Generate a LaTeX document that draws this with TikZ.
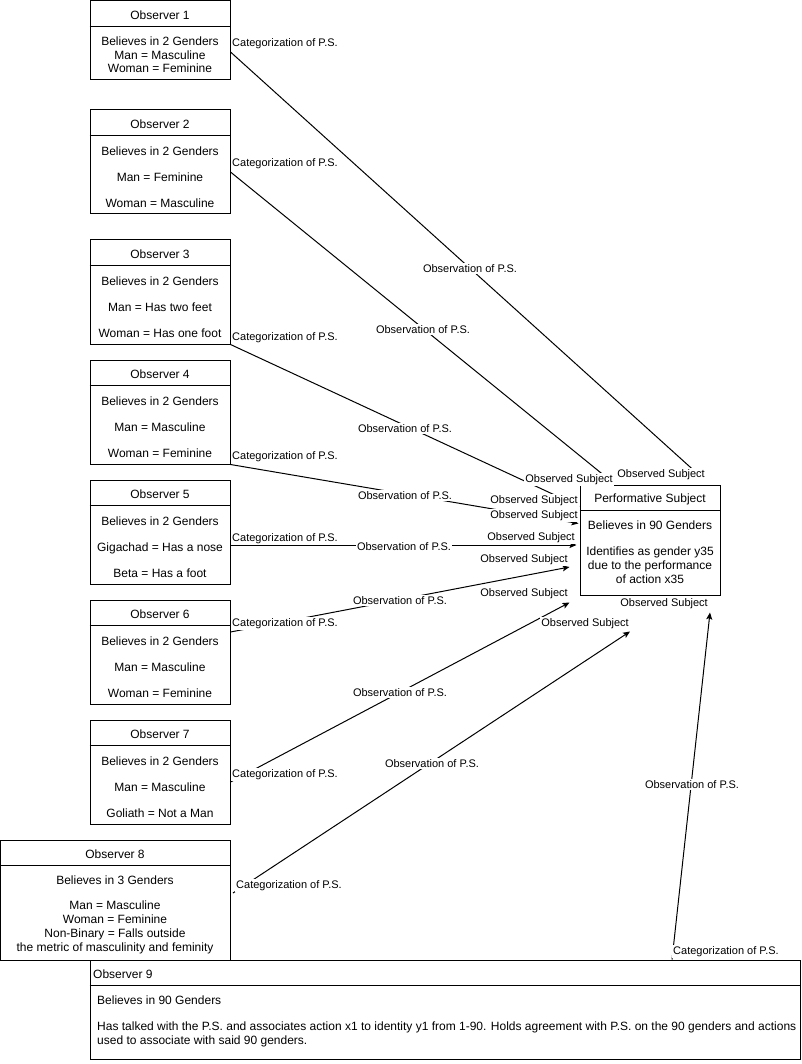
\documentclass[tikz,border=0pt]{standalone}
\usepackage{fontspec}
\setmainfont{Liberation Sans}
\usetikzlibrary{arrows.meta}
\begin{document}
\begin{tikzpicture}[x=1pt,y=-1pt,
  box/.style={draw, line width=1pt, inner sep=0pt, minimum width=140pt},
  ttl/.style={font=\fontsize{12}{14}\selectfont, inner sep=0pt, yshift=-1.5pt},
  bdy/.style={font=\fontsize{12}{13.5}\selectfont, align=center, inner sep=0pt, yshift=-1.5pt},
  bdyw/.style={font=\fontsize{12}{14}\selectfont, align=center, inner sep=0pt, yshift=-1.5pt},
  lbl/.style={font=\fontsize{11}{13}\selectfont, fill=white, inner sep=1pt, yshift=-1.5pt},
  conn/.style={line width=1pt, -{Stealth[length=7pt,width=6pt,inset=1.5pt]}},
  hdr/.style={line width=1pt}]
\useasboundingbox (0,0) rectangle (801,1064);

% ---------- boxes ----------
\node[box, minimum height=79pt] (o1) at (160,40.5) {};
\node[box, minimum height=104pt] (o2) at (160,162) {};
\node[box, minimum height=104pt] (o3) at (160,292) {};
\node[box, minimum height=104pt] (o4) at (160,412) {};
\node[box, minimum height=104pt] (o5) at (160,532) {};
\node[box, minimum height=104pt] (o6) at (160,652) {};
\node[box, minimum height=104pt] (o7) at (160,772) {};
\node[box, minimum width=230pt, minimum height=120pt] (o8) at (115.5,900) {};
\node[box, minimum width=710pt, minimum height=99pt] (o9) at (445,1009.5) {};
\node[box, minimum height=110pt] (ps) at (650,540) {};

\foreach \n in {o1,o2,o3,o4,o5,o6,o7,o8,o9,ps}
  \draw[hdr] ([yshift=-26pt]\n.north west) -- ([yshift=-26pt]\n.north east);

% ---------- box texts ----------
\node[ttl] (o1t) at (160,13.5) {Observer 1};
\node[bdy] (o1b) at (160,53.5) {Believes in 2 Genders\\Man = Masculine\\Woman = Feminine};
\node[ttl] (o2t) at (160,123) {Observer 2};
\node[bdy] (o2b) at (160,176) {Believes in 2 Genders\\[12.5pt]Man = Feminine\\[12.5pt]Woman = Masculine};
\node[ttl] (o3t) at (160,253) {Observer 3};
\node[bdy] (o3b) at (160,306) {Believes in 2 Genders\\[12.5pt]Man = Has two feet\\[12.5pt]Woman = Has one foot};
\node[ttl] (o4t) at (160,373) {Observer 4};
\node[bdy] (o4b) at (160,426) {Believes in 2 Genders\\[12.5pt]Man = Masculine\\[12.5pt]Woman = Feminine};
\node[ttl] (o5t) at (160,493) {Observer 5};
\node[bdy] (o5b) at (160,546) {Believes in 2 Genders\\[12.5pt]Gigachad = Has a nose\\[12.5pt]Beta = Has a foot};
\node[ttl] (o6t) at (160,613) {Observer 6};
\node[bdy] (o6b) at (160,666) {Believes in 2 Genders\\[12.5pt]Man = Masculine\\[12.5pt]Woman = Feminine};
\node[ttl] (o7t) at (160,733) {Observer 7};
\node[bdy] (o7b) at (160,786) {Believes in 2 Genders\\[12.5pt]Man = Masculine\\[12.5pt]Goliath = Not a Man};
\node[ttl] (o8t) at (115,853) {Observer 8};
\node[bdyw] (o8b) at (115,913.5) {Believes in 3 Genders\\[11pt]Man = Masculine\\Woman = Feminine\\Non-Binary = Falls outside\\the metric of masculinity and feminity};
\node[ttl, anchor=west] (o9t) at (93,973) {Observer 9};
\node[bdyw, align=left, anchor=west] (o9b) at (97,1019.5) {Believes in 90 Genders\\[12pt]Has talked with the P.S. and associates action x1 to identity y1 from 1-90. Holds agreement with P.S. on the 90 genders and actions\\used to associate with said 90 genders.};
\node[ttl] (pst) at (650,498) {Performative Subject};
\node[bdyw] (psb) at (650,551) {Believes in 90 Genders\\[12pt]Identifies as gender y35\\due to the performance\\of action x35};

% ---------- connectors ----------
\draw[conn] ([yshift=-11.5pt]o1.east) -- ([shift={(55pt,4pt)}]ps.north);
\draw[conn] ([yshift=-10pt]o2.east) -- ([shift={(-36pt,1pt)}]ps.north);
\draw[conn] (o3.south east) -- ([yshift=-22pt]ps.north west);
\draw[conn] (o4.south east) -- ([shift={(-1pt,-39pt)}]ps.north west);
\draw[conn] ([yshift=-13pt]o5.east) -- ([shift={(-3pt,-5pt)}]ps.west);
\draw[conn] ([yshift=20pt]o6.east) -- ([shift={(-10pt,-27pt)}]ps.west);
\draw[conn] ([yshift=-10pt]o7.east) -- ([shift={(-10pt,-7pt)}]ps.south west);
\draw[conn] ([shift={(2pt,7pt)}]o8.east) -- ([shift={(-20pt,-36pt)}]ps.south);
\draw[conn] ([xshift=227pt]o9.north) -- ([shift={(60pt,-17pt)}]ps.south);

% ---------- connector labels ----------
\node[lbl, anchor=west] (c1) at (231,42) {Categorization of P.S.};
\node[lbl, anchor=west] (c2) at (231,162) {Categorization of P.S.};
\node[lbl, anchor=west] (c3) at (231,336) {Categorization of P.S.};
\node[lbl, anchor=west] (c4) at (231,455) {Categorization of P.S.};
\node[lbl, anchor=west] (c5) at (231,537) {Categorization of P.S.};
\node[lbl, anchor=west] (c6) at (231,622) {Categorization of P.S.};
\node[lbl, anchor=west] (c7) at (231,773) {Categorization of P.S.};
\node[lbl, anchor=west] (c8) at (235,884) {Categorization of P.S.};
\node[lbl, anchor=west] (c9) at (672,950) {Categorization of P.S.};

\node[lbl] (m1) at (470,267) {Observation of P.S.};
\node[lbl] (m2) at (423,328) {Observation of P.S.};
\node[lbl] (m3) at (405,427) {Observation of P.S.};
\node[lbl] (m4) at (405,494) {Observation of P.S.};
\node[lbl] (m5) at (404,545) {Observation of P.S.};
\node[lbl] (m6) at (400,599) {Observation of P.S.};
\node[lbl] (m7) at (400,691) {Observation of P.S.};
\node[lbl] (m8) at (432,762) {Observation of P.S.};
\node[lbl] (m9) at (692,783) {Observation of P.S.};

\node[lbl, anchor=east] (s1) at (706,473) {Observed Subject};
\node[lbl, anchor=east] (s2) at (614,478) {Observed Subject};
\node[lbl, anchor=east] (s3) at (579,499) {Observed Subject};
\node[lbl, anchor=east] (s4) at (579,514) {Observed Subject};
\node[lbl, anchor=east] (s5) at (576,536) {Observed Subject};
\node[lbl, anchor=east] (s6) at (569,558) {Observed Subject};
\node[lbl, anchor=east] (s7) at (569,592) {Observed Subject};
\node[lbl, anchor=east] (s8) at (630,622) {Observed Subject};
\node[lbl, anchor=east] (s9) at (709,602) {Observed Subject};
\end{tikzpicture}
\end{document}
